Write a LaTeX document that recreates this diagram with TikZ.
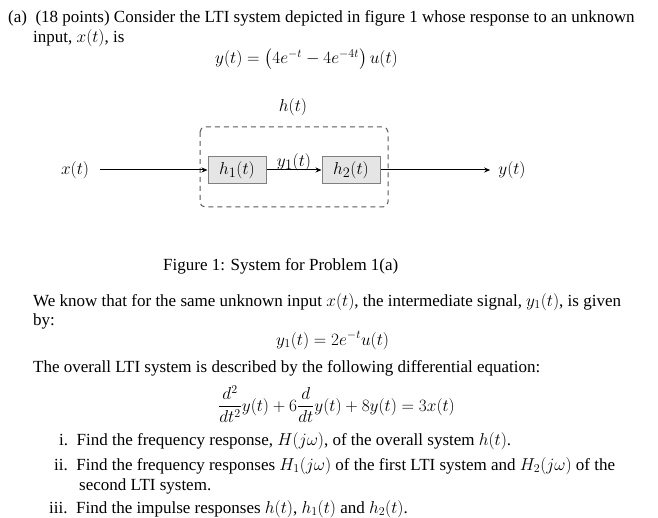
\documentclass[tikz,border=0pt]{standalone}
\usepackage{fontspec}
\setmainfont{Liberation Serif}
\usepackage{amsmath}
\usetikzlibrary{arrows.meta}
\begin{document}
\begin{tikzpicture}[x=1pt,y=-1pt,
  txt/.style={anchor=base west,inner sep=0,font=\fontsize{17}{19}\selectfont},
  blk/.style={draw=black!50,line width=1pt,fill=black!10,minimum width=58,minimum height=27,inner sep=0,font=\fontsize{19}{21}\selectfont},
  lbl/.style={font=\fontsize{19}{21}\selectfont,inner sep=1},
  arr/.style={-{Stealth[length=6pt,width=5pt]},line width=1pt}]
\useasboundingbox (0,0) rectangle (658,518);
\node[txt] (l1) at (8,23) {(a)\ \ (18 points) Consider the LTI system depicted in figure 1 whose response to an unknown};
\node[txt] (l2) at (33,43) {input, $x(t)$, is};
\node[txt] (e1) at (215,64) {$y(t)=\left(4e^{-t}-4e^{-4t}\right)u(t)$};
\node[lbl,inner sep=11] (x) at (75,170) {$x(t)$};
\node[blk] (h1) at (237,170) {$h_1(t)$};
\node[blk] (h2) at (351,170) {$h_2(t)$};
\node[lbl,inner sep=8] (y) at (512,170) {$y(t)$};
\draw[dashed,line width=1pt,draw=black!65,rounded corners=5,dash pattern=on 5pt off 4pt] (200,127) rectangle (388,207);
\node[lbl] (h) at (293,107) {$h(t)$};
\draw[arr] (x) -- (h1);
\draw[arr] (h1) -- node[lbl,above,yshift=-2] (y1) {$y_1(t)$} (h2);
\draw[arr] (h2) -- (y);
\node[txt] (cap) at (163,271) {Figure 1: System for Problem 1(a)};
\node[txt] (l3) at (33,306) {We know that for the same unknown input $x(t)$, the intermediate signal, $y_1(t)$, is given};
\node[txt] (l4) at (33,325) {by:};
\node[txt] (e2) at (276,345) {$y_1(t)=2e^{-t}u(t)$};
\node[txt] (l5) at (33,372) {The overall LTI system is described by the following differential equation:};
\node[txt] (e3) at (218,411) {$\dfrac{d^2}{dt^2}y(t)+6\dfrac{d}{dt}y(t)+8y(t)=3x(t)$};
\node[txt] (i1) at (59,445) {i.\ \ Find the frequency response, $H(j\omega)$, of the overall system $h(t)$.};
\node[txt] (i2) at (54,470) {ii.\ \ Find the frequency responses $H_1(j\omega)$ of the first LTI system and $H_2(j\omega)$ of the};
\node[txt] (i2b) at (79,490) {second LTI system.};
\node[txt] (i3) at (49,513) {iii.\ \ Find the impulse responses $h(t)$, $h_1(t)$ and $h_2(t)$.};
\end{tikzpicture}
\end{document}
